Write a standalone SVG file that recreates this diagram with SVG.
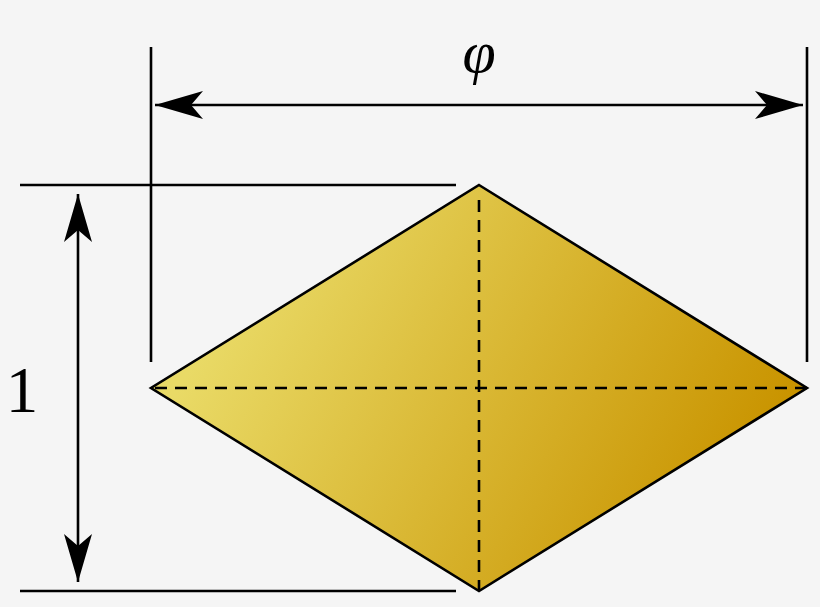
<svg xmlns="http://www.w3.org/2000/svg" width="820" height="607" viewBox="0 0 820 607">
<style>
.ln{stroke:#000;stroke-width:2.6;fill:none}
.dash{stroke:#000;stroke-width:2.6;fill:none;stroke-dasharray:12 8}
.lbl{font-family:"Liberation Serif","DejaVu Serif",serif;fill:#000}
</style>
<defs>
<linearGradient id="g" gradientUnits="userSpaceOnUse" x1="250" y1="260" x2="720" y2="520">
<stop offset="0" stop-color="#e9da66"/>
<stop offset="1" stop-color="#c99400"/>
</linearGradient>
<marker id="ah" viewBox="0 0 48 28" refX="48" refY="14" markerWidth="48" markerHeight="28" markerUnits="userSpaceOnUse" orient="auto-start-reverse">
<path d="M48,14 L0,0 L12,14 L0,28 Z" fill="#000"/>
</marker>
</defs>
<rect width="820" height="607" fill="#f5f5f5"/>
<g id="rhombus">
<polygon points="479,185 807,388 479,591 151,388" fill="url(#g)" stroke="#000" stroke-width="2.6" stroke-linejoin="miter"/>
<line class="dash" x1="479" y1="200" x2="479" y2="591"/>
<line class="dash" x1="155" y1="388" x2="807" y2="388"/>
</g>
<g id="connectors">
<line class="ln" x1="151" y1="47" x2="151" y2="362"/>
<line class="ln" x1="807" y1="47" x2="807" y2="362"/>
<line class="ln" x1="20" y1="185" x2="456" y2="185"/>
<line class="ln" x1="20" y1="591" x2="456" y2="591"/>
<line class="ln" x1="155" y1="105" x2="803" y2="105" marker-start="url(#ah)" marker-end="url(#ah)"/>
<line class="ln" x1="78" y1="194" x2="78" y2="582" marker-start="url(#ah)" marker-end="url(#ah)"/>
</g>
<g id="labels">
<text class="lbl" x="479" y="72" font-size="60" font-style="italic" text-anchor="middle">φ</text>
<text class="lbl" x="22" y="412" font-size="65" text-anchor="middle">1</text>
</g>
</svg>
